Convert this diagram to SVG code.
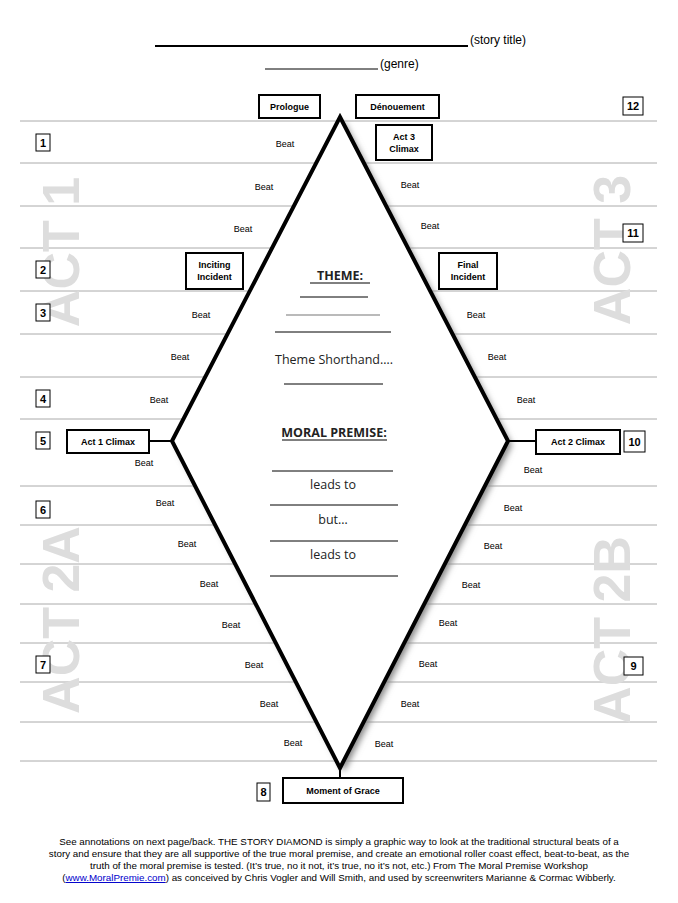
<svg xmlns="http://www.w3.org/2000/svg" width="678" height="903" viewBox="0 0 678 903">
<defs>
<style>
text{font-family:"Liberation Sans",Arial,sans-serif;fill:#000}
.b{font-size:9px;text-anchor:middle}
.lbl{font-size:9px;font-weight:bold;text-anchor:middle}
.n{font-size:11px;font-weight:bold;text-anchor:middle}
.box{fill:#fff;stroke:#000;stroke-width:2}
.nb{fill:#fff;stroke:#000;stroke-width:1}
.hl{stroke:#aaa;stroke-width:1}
.act{font-size:52px;font-weight:bold;fill:#ddd;text-anchor:middle}
.c{font-family:"Open Sans","Liberation Sans",sans-serif;font-size:12.5px;text-anchor:middle;fill:#222}
.ul{stroke:#000;stroke-width:1}
.f{font-size:9.8px;text-anchor:middle}
</style>
<filter id="sh" x="-20%" y="-20%" width="140%" height="140%"><feGaussianBlur stdDeviation="3"/></filter>
</defs>
<rect width="678" height="903" fill="#fff"/>
<line x1="155" y1="46" x2="468" y2="46" stroke="#000" stroke-width="2"/>
<text x="470" y="44" font-size="12">(story title)</text>
<line x1="265" y1="69" x2="378" y2="69" stroke="#000" stroke-width="1"/>
<text x="380" y="68" font-size="12">(genre)</text>
<g id="rows">
<line class="hl" x1="20" y1="121" x2="657" y2="121"/>
<line class="hl" x1="20" y1="163" x2="657" y2="163"/>
<line class="hl" x1="20" y1="206" x2="657" y2="206"/>
<line class="hl" x1="20" y1="248" x2="657" y2="248"/>
<line class="hl" x1="20" y1="291" x2="657" y2="291"/>
<line class="hl" x1="20" y1="334" x2="657" y2="334"/>
<line class="hl" x1="20" y1="377" x2="657" y2="377"/>
<line class="hl" x1="20" y1="419" x2="657" y2="419"/>
<line class="hl" x1="20" y1="486" x2="657" y2="486"/>
<line class="hl" x1="20" y1="525" x2="657" y2="525"/>
<line class="hl" x1="20" y1="564" x2="657" y2="564"/>
<line class="hl" x1="20" y1="604" x2="657" y2="604"/>
<line class="hl" x1="20" y1="643" x2="657" y2="643"/>
<line class="hl" x1="20" y1="682" x2="657" y2="682"/>
<line class="hl" x1="20" y1="722" x2="657" y2="722"/>
<line class="hl" x1="20" y1="761" x2="657" y2="761"/>
</g>
<g id="acts">
<text class="act" transform="translate(79,252) rotate(-90)">ACT 1</text>
<text class="act" transform="translate(630,250) rotate(-90)">ACT 3</text>
<text class="act" transform="translate(79,620) rotate(-90)">ACT 2A</text>
<text class="act" transform="translate(630,630) rotate(-90)">ACT 2B</text>
</g>
<g id="diamond">
<polygon points="344,121 512,445 344,772 176,445" fill="#888" filter="url(#sh)"/>
<polygon points="340,117 508,441 340,768 172,441" fill="#fff" stroke="#000" stroke-width="4" stroke-linejoin="miter"/>
</g>
<g id="connectors" stroke="#000" stroke-width="2">
<line x1="149" y1="441" x2="172" y2="441"/>
<line x1="508" y1="441" x2="536" y2="441"/>
<line x1="340" y1="768" x2="340" y2="778"/>
</g>
<g id="center">
<text class="c" x="340" y="280" font-weight="bold" font-size="13.5">THEME:</text>
<line class="ul" x1="310" y1="283" x2="370" y2="283"/>
<line class="ul" x1="300" y1="297" x2="368" y2="297"/>
<line x1="286" y1="315" x2="380" y2="315" stroke="#777" stroke-width="1.2"/>
<line class="ul" x1="275" y1="332" x2="391" y2="332"/>
<text class="c" x="334" y="364">Theme Shorthand….</text>
<line class="ul" x1="284" y1="384" x2="383" y2="384"/>
<text class="c" x="334" y="437" font-weight="bold" font-size="13">MORAL PREMISE:</text>
<line class="ul" x1="282" y1="440" x2="387" y2="440"/>
<line class="ul" x1="272" y1="471" x2="393" y2="471"/>
<text class="c" x="333" y="489">leads to</text>
<line class="ul" x1="270" y1="505" x2="398" y2="505"/>
<text class="c" x="333" y="524">but…</text>
<line class="ul" x1="270" y1="541" x2="398" y2="541"/>
<text class="c" x="333" y="559">leads to</text>
<line class="ul" x1="270" y1="576" x2="398" y2="576"/>
</g>
<g id="prologue"><rect class="box" x="259" y="95" width="61" height="23"/><text class="lbl" x="289.5" y="110">Prologue</text></g>
<g id="denouement"><rect class="box" x="356" y="95" width="83" height="23"/><text class="lbl" x="397.5" y="110">Dénouement</text></g>
<g id="act3climax"><rect class="box" x="376" y="125" width="56" height="35"/><text class="lbl" x="404" y="140">Act 3</text><text class="lbl" x="404" y="152">Climax</text></g>
<g id="inciting"><rect class="box" x="186" y="253" width="57" height="36"/><text class="lbl" x="214.5" y="268">Inciting</text><text class="lbl" x="214.5" y="280">Incident</text></g>
<g id="final"><rect class="box" x="439" y="253" width="58" height="36"/><text class="lbl" x="468" y="268">Final</text><text class="lbl" x="468" y="280">Incident</text></g>
<g id="act1climax"><rect class="box" x="67" y="430" width="82" height="23"/><text class="lbl" x="108" y="445">Act 1 Climax</text></g>
<g id="act2climax"><rect class="box" x="536" y="430" width="84" height="24"/><text class="lbl" x="578" y="445">Act 2 Climax</text></g>
<g id="grace"><rect class="box" x="283" y="778" width="120" height="25"/><text class="lbl" x="343" y="794">Moment of Grace</text></g>
<g id="numbers">
<g id="n1"><rect class="nb" x="36" y="134" width="14" height="17"/><text class="n" x="43" y="147">1</text></g>
<g id="n2"><rect class="nb" x="36" y="261" width="14" height="17"/><text class="n" x="43" y="274">2</text></g>
<g id="n3"><rect class="nb" x="36" y="304" width="14" height="17"/><text class="n" x="43" y="317">3</text></g>
<g id="n4"><rect class="nb" x="36" y="390" width="14" height="17"/><text class="n" x="43" y="403">4</text></g>
<g id="n5"><rect class="nb" x="36" y="432" width="14" height="17"/><text class="n" x="43" y="445">5</text></g>
<g id="n6"><rect class="nb" x="36" y="501" width="14" height="17"/><text class="n" x="43" y="514">6</text></g>
<g id="n7"><rect class="nb" x="36" y="656" width="14" height="17"/><text class="n" x="43" y="669">7</text></g>
<g id="n8"><rect class="nb" x="257" y="783" width="13" height="18"/><text class="n" x="263.5" y="796">8</text></g>
<g id="n9"><rect class="nb" x="624" y="657" width="19" height="18"/><text class="n" x="633.5" y="670">9</text></g>
<g id="n10"><rect class="nb" x="624" y="431" width="21" height="21"/><text class="n" x="634.5" y="446">10</text></g>
<g id="n11"><rect class="nb" x="623" y="224" width="20" height="18"/><text class="n" x="633" y="237">11</text></g>
<g id="n12"><rect class="nb" x="623" y="97" width="20" height="18"/><text class="n" x="633" y="110">12</text></g>
</g>
<g id="beats">
<text class="b" x="285" y="147">Beat</text>
<text class="b" x="264" y="190">Beat</text>
<text class="b" x="243" y="232">Beat</text>
<text class="b" x="201" y="318">Beat</text>
<text class="b" x="180" y="360">Beat</text>
<text class="b" x="159" y="403">Beat</text>
<text class="b" x="144" y="466">Beat</text>
<text class="b" x="165" y="506">Beat</text>
<text class="b" x="187" y="547">Beat</text>
<text class="b" x="209" y="587">Beat</text>
<text class="b" x="231" y="628">Beat</text>
<text class="b" x="254" y="668">Beat</text>
<text class="b" x="269" y="707">Beat</text>
<text class="b" x="293" y="746">Beat</text>
<text class="b" x="410" y="188">Beat</text>
<text class="b" x="430" y="229">Beat</text>
<text class="b" x="476" y="318">Beat</text>
<text class="b" x="497" y="360">Beat</text>
<text class="b" x="526" y="403">Beat</text>
<text class="b" x="533" y="473">Beat</text>
<text class="b" x="513" y="511">Beat</text>
<text class="b" x="493" y="549">Beat</text>
<text class="b" x="471" y="588">Beat</text>
<text class="b" x="448" y="626">Beat</text>
<text class="b" x="428" y="667">Beat</text>
<text class="b" x="410" y="707">Beat</text>
<text class="b" x="384" y="747">Beat</text>
</g>
<g id="footer">
<text class="f" x="339" y="845">See annotations on next page/back. THE STORY DIAMOND is simply a graphic way to look at the traditional structural beats of a</text>
<text class="f" x="339" y="857">story and ensure that they are all supportive of the true moral premise, and create an emotional roller coast effect, beat-to-beat, as the</text>
<text class="f" x="339" y="869">truth of the moral premise is tested. (It’s true, no it not, it’s true, no it’s not, etc.) From The Moral Premise Workshop</text>
<text class="f" x="339" y="881">(<tspan fill="#00c" text-decoration="underline">www.MoralPremie.com</tspan>) as conceived by Chris Vogler and Will Smith, and used by screenwriters Marianne &amp; Cormac Wibberly.</text>
</g>
</svg>
